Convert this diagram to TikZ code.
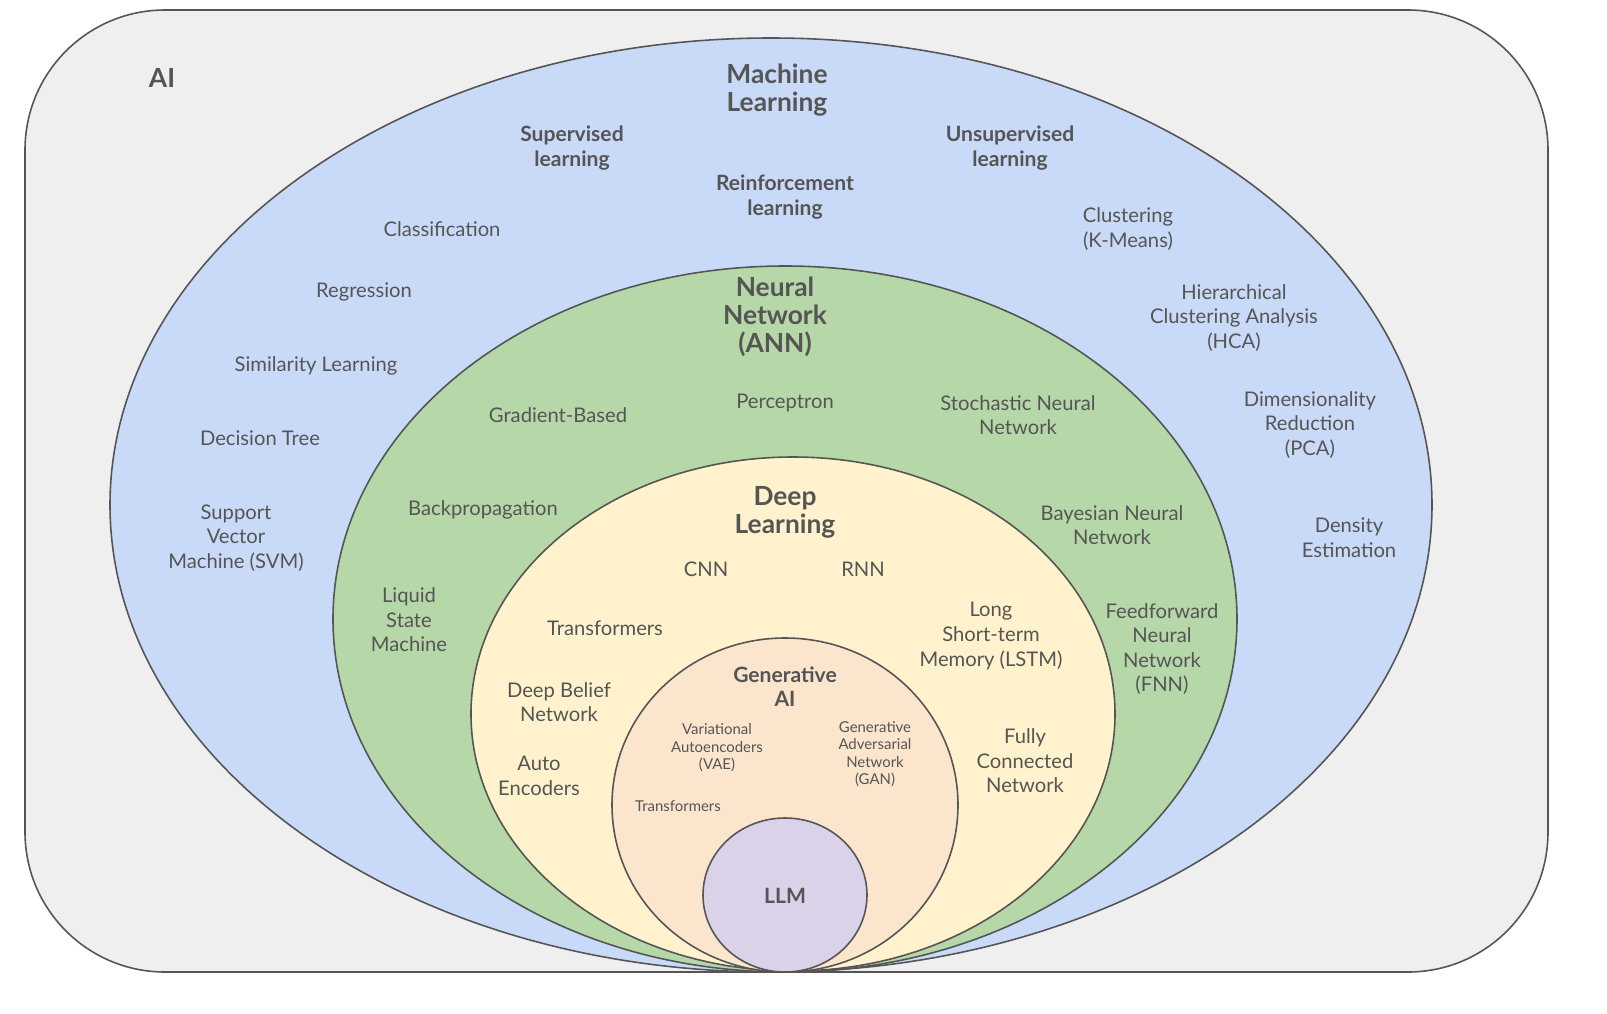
\documentclass[tikz,border=0pt]{standalone}
\usepackage{fontspec}
\setmainfont{Lato}
\usetikzlibrary{positioning}
\definecolor{bgGray}{HTML}{EFEFEF}
\definecolor{mlBlue}{HTML}{C9DAF8}
\definecolor{nnGreen}{HTML}{B6D7A8}
\definecolor{dlYellow}{HTML}{FFF2CC}
\definecolor{genPeach}{HTML}{FCE5CD}
\definecolor{llmLav}{HTML}{D9D2E9}
\definecolor{lineGray}{HTML}{555555}
\definecolor{txtGray}{HTML}{555555}
\tikzset{
  zone/.style={draw=lineGray, line width=0.9pt},
  title/.style={font=\fontsize{15}{16}\selectfont\bfseries, text=txtGray, align=center},
  item/.style={font=\fontsize{11.5}{14}\selectfont, text=txtGray, align=center},
  small/.style={font=\fontsize{8.5}{10}\selectfont, text=txtGray, align=center},
}
\begin{document}
\begin{tikzpicture}[x=0.02cm, y=-0.02cm]
\useasboundingbox (0,0) rectangle (1607,1014);
% zones
\draw[zone, fill=bgGray, rounded corners=2.8cm] (25,10) rectangle (1548,972);
\draw[zone, fill=mlBlue] (771,505) ellipse [x radius=661, y radius=467];
\draw[zone, fill=nnGreen] (785,619) ellipse [x radius=452, y radius=353];
\draw[zone, fill=dlYellow] (793,714) ellipse [x radius=322, y radius=257];
\draw[zone, fill=genPeach] (785,805) ellipse [x radius=173, y radius=167];
\draw[zone, fill=llmLav] (785,895) ellipse [x radius=82, y radius=77];

% AI and ML
\node[title] (ai) at (162,78) {AI};
\node[title] (ml) at (777,90) {Machine\\Learning};
\node[item, font=\fontsize{12}{14}\selectfont\bfseries] (sup) at (572,148) {Supervised\\learning};
\node[item, font=\fontsize{12}{14}\selectfont\bfseries] (rl) at (785,197) {Reinforcement\\learning};
\node[item, font=\fontsize{12}{14}\selectfont\bfseries] (unsup) at (1010,148) {Unsupervised\\learning};
\node[item] (cls) at (442,229) {Classification};
\node[item] (reg) at (364,292) {Regression};
\node[item] (sim) at (316,366) {Similarity Learning};
\node[item] (dt) at (260,438) {Decision Tree};
\node[item] (svm) at (236,538) {Support\\Vector\\Machine (SVM)};
\node[item] (clu) at (1128,229) {Clustering\\(K-Means)};
\node[item] (hca) at (1234,318) {Hierarchical\\Clustering Analysis\\(HCA)};
\node[item] (pca) at (1310,425) {Dimensionality\\Reduction\\(PCA)};
\node[item] (dens) at (1349,538) {Density\\Estimation};

% Neural network
\node[title] (nn) at (775,317) {Neural\\Network\\(ANN)};
\node[item] (grad) at (558,415) {Gradient-Based};
\node[item] (perc) at (785,403) {Perceptron};
\node[item] (snn) at (1018,415) {Stochastic Neural\\Network};
\node[item] (bp) at (483,510) {Backpropagation};
\node[item] (bnn) at (1112,525) {Bayesian Neural\\Network};
\node[item] (lsm) at (409,620) {Liquid\\State\\Machine};
\node[item] (fnn) at (1162,649) {Feedforward\\Neural\\Network\\(FNN)};

% Deep learning
\node[title] (dl) at (785,512) {Deep\\Learning};
\node[item] (cnn) at (706,569) {CNN};
\node[item] (rnn) at (863,569) {RNN};
\node[item] (trf) at (605,628) {Transformers};
\node[item] (lstm) at (991,636) {Long\\Short-term\\Memory (LSTM)};
\node[item] (dbn) at (559,702) {Deep Belief\\Network};
\node[item] (ae) at (539,776) {Auto\\Encoders};
\node[item] (fcn) at (1025,761) {Fully\\Connected\\Network};

% Generative AI
\node[title, font=\fontsize{12}{13.5}\selectfont\bfseries] (gen) at (785,687) {Generative\\AI};
\node[small] (vae) at (717,748) {Variational\\Autoencoders\\(VAE)};
\node[small] (gan) at (875,754) {Generative\\Adversarial\\Network\\(GAN)};
\node[small] (gtrf) at (678,806) {Transformers};
\node[title, font=\fontsize{12}{13.5}\selectfont\bfseries] (llm) at (785,896) {LLM};
\end{tikzpicture}
\end{document}
